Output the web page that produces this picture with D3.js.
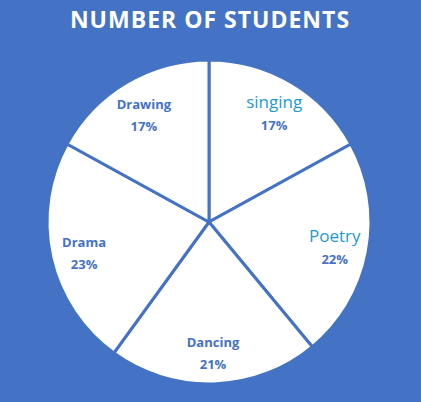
<!DOCTYPE html>
<html><head><meta charset="utf-8">
<script src="https://cdn.jsdelivr.net/npm/d3@7"></script>
<style>body{margin:0;background:#4472C4;}</style>
</head><body>
<svg id="chart" width="421" height="402"></svg>
<script>
// activity names and share of students (%)
var activities = ["singing", "Poetry", "Dancing", "Drama", "Drawing"];
var shares = [17, 22, 21, 23, 17];
var highlighted = ["singing", "Poetry"];

var svg = d3.select("#chart");
svg.append("rect").attr("width", 421).attr("height", 402).attr("fill", "#4472C4");

svg.append("text")
    .attr("x", 210).attr("y", 28)
    .attr("text-anchor", "middle")
    .attr("fill", "white")
    .style("font", "bold 23px 'Open Sans', sans-serif")
    .style("letter-spacing", "1px")
    .text("NUMBER OF STUDENTS");

var radius = 162;
var g = svg.append("g").attr("transform", "translate(209,222)");

var pie = d3.pie().sort(null).value(d => d.v);
var arcs = pie(activities.map((a, i) => ({name: a, v: shares[i]})));
var arc = d3.arc().innerRadius(0).outerRadius(radius);
var labelArc = d3.arc().innerRadius(128).outerRadius(128);

g.selectAll("path").data(arcs).enter().append("path")
    .attr("d", arc)
    .attr("fill", "white")
    .attr("stroke", "#4472C4")
    .attr("stroke-width", 3);

arcs.forEach(function(d) {
    var c = labelArc.centroid(d);
    var hi = highlighted.includes(d.data.name);
    var t = g.append("text")
        .attr("x", c[0]).attr("y", c[1])
        .attr("text-anchor", "middle")
        .style("font-family", "'Open Sans', sans-serif");
    t.append("tspan")
        .attr("x", c[0]).attr("dy", hi ? -4 : -3)
        .attr("fill", hi ? "#1E9AD0" : "#4472C4")
        .style("font-size", hi ? "17px" : "13px")
        .style("font-weight", hi ? "normal" : "bold")
        .text(d.data.name);
    t.append("tspan")
        .attr("x", c[0]).attr("dy", 22)
        .attr("fill", "#4472C4")
        .style("font-size", "13px")
        .style("font-weight", "bold")
        .text(d.data.v + "%");
});
</script>
</body></html>
